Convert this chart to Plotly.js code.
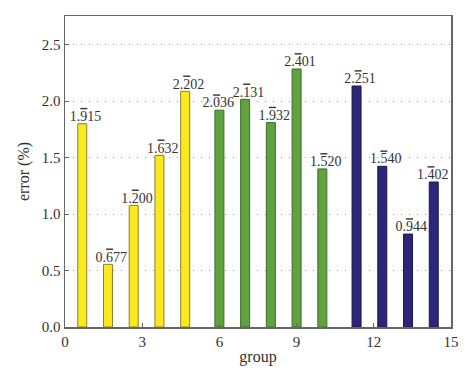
<!DOCTYPE html>
<html>
<head>
<meta charset="utf-8">
<script src="https://cdn.plot.ly/plotly-3.0.1.min.js"></script>
<style>html,body{margin:0;padding:0;background:#fff}#chart{width:474px;height:384px}</style>
</head>
<body>
<div id="chart"></div>
<script>
// group positions
const xYellow = [0.67, 1.67, 2.67, 3.67, 4.67];
const xGreen = [6.0, 7.0, 8.0, 9.0, 10.0];
const xNavy = [11.33, 12.33, 13.33, 14.33];
// bar heights (error %)
const yYellow = [1.80, 0.555, 1.077, 1.52, 2.087];
const yGreen = [1.92, 2.016, 1.81, 2.285, 1.40];
const yNavy = [2.134, 1.423, 0.823, 1.284];
// label texts shown above bars
const labYellow = ["1.915", "0.677", "1.200", "1.632", "2.202"];
const labGreen = ["2.036", "2.131", "1.932", "2.401", "1.520"];
const labNavy = ["2.251", "1.540", "0.944", "1.402"];
const xTicks = [0, 3, 6, 9, 12, 15];
const yTicks = [0.0, 0.5, 1.0, 1.5, 2.0, 2.5];

function overline(s) {
  // bar over the third character
  return s.slice(0, 2) + '<span style="text-decoration:overline">' + s.slice(2, 3) + '</span>' + s.slice(3);
}

function barTrace(x, y, fill, line) {
  return {
    type: 'bar', x: x, y: y, width: 0.35,
    marker: {color: fill, line: {color: line, width: 1}},
    hoverinfo: 'skip', showlegend: false
  };
}

const allX = xYellow.concat(xGreen, xNavy);
const allY = yYellow.concat(yGreen, yNavy);
const allLab = labYellow.concat(labGreen, labNavy);
const shiftLeft = {"2.036": true, "1.402": true};
const labX = allX.map((v, i) => v + (shiftLeft[allLab[i]] ? -0.04 : 0.13));
const labY = allY.map(v => v + 0.056);

const traces = [
  barTrace(xYellow, yYellow, '#FCE81E', '#8C7E36'),
  barTrace(xGreen, yGreen, '#5FA23F', '#3E6E2B'),
  barTrace(xNavy, yNavy, '#2C2679', '#1B1852'),
  {
    type: 'scatter', mode: 'text', x: labX, y: labY,
    text: allLab.map(overline), textposition: 'middle center',
    textfont: {family: 'Liberation Serif', size: 14, color: '#333'},
    hoverinfo: 'skip', showlegend: false, cliponaxis: false
  }
];

const layout = {
  width: 474, height: 384,
  margin: {l: 65, r: 23, t: 16, b: 57},
  paper_bgcolor: '#fff', plot_bgcolor: '#fff',
  font: {family: 'Liberation Serif', size: 15, color: '#333'},
  bargap: 0,
  xaxis: {
    range: [0, 15], tickvals: xTicks, ticktext: xTicks.map(String),
    showgrid: false, zeroline: false,
    showline: true, mirror: true, linecolor: '#666', linewidth: 1.5,
    ticks: 'inside', ticklen: 4, tickcolor: '#666',
    tickfont: {family: 'Liberation Serif', size: 15, color: '#333'},
    title: {text: 'group', font: {family: 'Liberation Serif', size: 16, color: '#333'}, standoff: 2}
  },
  yaxis: {
    range: [0, 2.754], tickvals: yTicks, ticktext: yTicks.map(v => v.toFixed(1)),
    showgrid: true, gridcolor: '#999', griddash: '1px,7px', gridwidth: 1,
    zeroline: false,
    showline: true, mirror: true, linecolor: '#666', linewidth: 1.5,
    ticks: 'inside', ticklen: 4, tickcolor: '#666',
    tickfont: {family: 'Liberation Serif', size: 15, color: '#333'},
    title: {text: 'error (%)', font: {family: 'Liberation Serif', size: 16, color: '#333'}, standoff: 8}
  }
};

Plotly.newPlot('chart', traces, layout, {staticPlot: true, displayModeBar: false});
</script>
</body>
</html>
